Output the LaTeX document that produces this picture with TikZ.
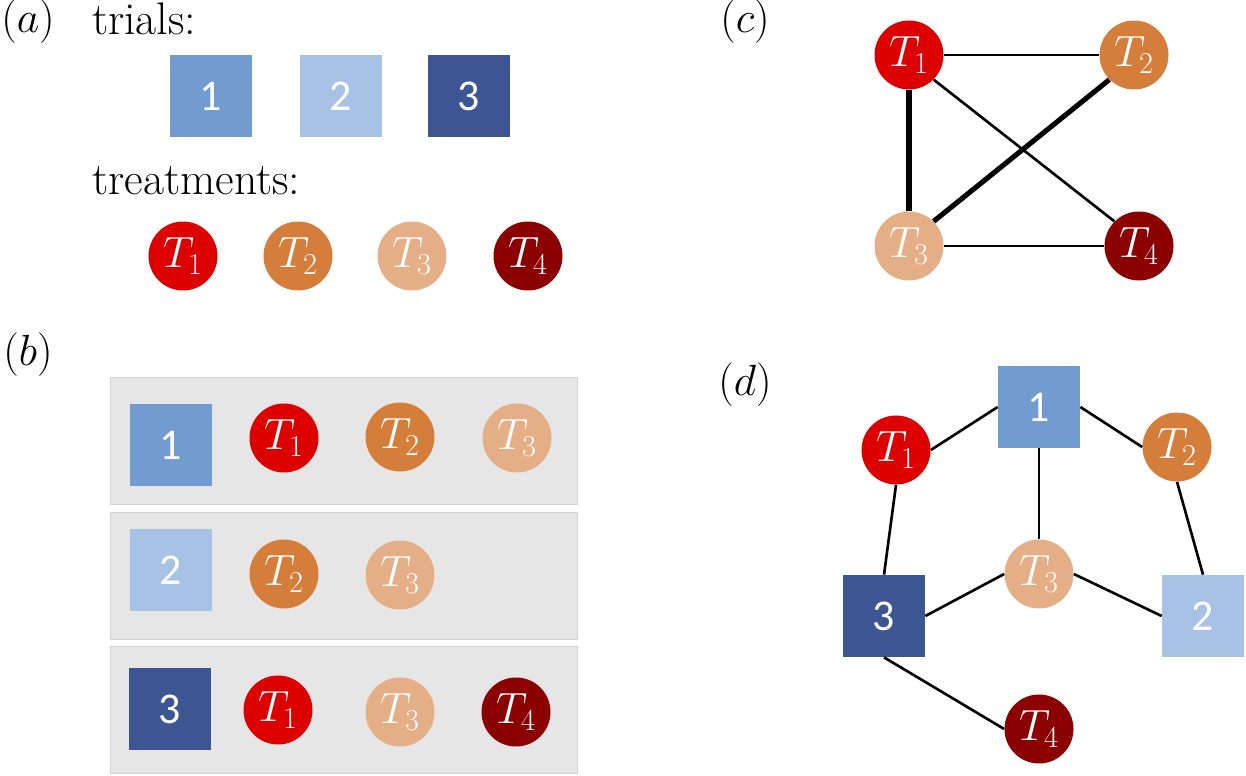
\documentclass[tikz,border=0pt]{standalone}
\usepackage{amsmath}
\usepackage{fontspec}
\newfontfamily\numfont{Carlito}
\DeclareMathSizes{24}{24}{18.5}{14}
\definecolor{trialone}{HTML}{729BD0}
\definecolor{trialtwo}{HTML}{A7C2E5}
\definecolor{trialthree}{HTML}{3E5593}
\definecolor{treatone}{HTML}{DD0000}
\definecolor{treattwo}{HTML}{D57D3B}
\definecolor{treatthree}{HTML}{E4AF86}
\definecolor{treatfour}{HTML}{8B0000}
\definecolor{rowgray}{HTML}{E6E6E6}
\definecolor{rowedge}{HTML}{D2D2D2}
\tikzset{
    every node/.style={align=center,},
    trial/.style={rectangle,minimum size=1.64cm,inner sep=0pt,text=white,font=\numfont\fontsize{25}{30}\selectfont,},
    treat/.style={circle,minimum size=1.38cm,inner sep=0pt,text=white,font=\fontsize{24}{28}\selectfont,},
    row/.style={rectangle,fill=rowgray,draw=rowedge,minimum width=9.34cm,minimum height=2.54cm,},
    panel/.style={font=\fontsize{26}{30}\selectfont,},
    link/.style={line width=1.5pt,},
    strong/.style={line width=2.9pt,},
}

\begin{document}
\begin{tikzpicture}[x=0.02cm,y=-0.02cm]
        \useasboundingbox (0, 0) rectangle (1246, 776);

        % (a)
        \node[panel] (label_a) at (28, 22) {$(a)$};
        \node[panel,anchor=base west] (trials) at (86, 35) {trials:};
        \node[trial,fill=trialone] (trial_1) at (211, 96) {1};
        \node[trial,fill=trialtwo] (trial_2) at (341, 96) {2};
        \node[trial,fill=trialthree] (trial_3) at (469, 96) {3};

        \node[panel,anchor=base west] (treatments) at (86, 195) {treatments:};
        \node[treat,fill=treatone] (treat_1) at (183, 256) {$T_1$};
        \node[treat,fill=treattwo] (treat_2) at (298, 256) {$T_2$};
        \node[treat,fill=treatthree] (treat_3) at (412, 256) {$T_3$};
        \node[treat,fill=treatfour] (treat_4) at (528, 256) {$T_4$};

        % (b)
        \node[panel] (label_b) at (28, 355) {$(b)$};
        \node[row] (row_1) at (343.5, 440.5) {};
        \node[row] (row_2) at (343.5, 575.5) {};
        \node[row] (row_3) at (343.5, 710) {};

        \node[trial,fill=trialone] (b1_trial) at (171, 445) {1};
        \node[treat,fill=treatone] (b1_t1) at (284, 438) {$T_1$};
        \node[treat,fill=treattwo] (b1_t2) at (400, 437) {$T_2$};
        \node[treat,fill=treatthree] (b1_t3) at (517, 438) {$T_3$};

        \node[trial,fill=trialtwo] (b2_trial) at (171, 570) {2};
        \node[treat,fill=treattwo] (b2_t2) at (284, 574) {$T_2$};
        \node[treat,fill=treatthree] (b2_t3) at (400, 575) {$T_3$};

        \node[trial,fill=trialthree] (b3_trial) at (170, 709) {3};
        \node[treat,fill=treatone] (b3_t1) at (278, 710) {$T_1$};
        \node[treat,fill=treatthree] (b3_t3) at (400, 712) {$T_3$};
        \node[treat,fill=treatfour] (b3_t4) at (516, 712) {$T_4$};

        % (c)
        \node[panel] (label_c) at (745, 22) {$(c)$};
        \node[treat,fill=treatone] (c_t1) at (909, 55) {$T_1$};
        \node[treat,fill=treattwo] (c_t2) at (1134, 55) {$T_2$};
        \node[treat,fill=treatthree] (c_t3) at (909, 246) {$T_3$};
        \node[treat,fill=treatfour] (c_t4) at (1139, 246) {$T_4$};

        \draw[link] (c_t1.east) to (c_t2.west);
        \draw[link] (c_t3.east) to (c_t4.west);
        \draw[link] (c_t1.south east) to (c_t4.north west);
        \draw[strong] (c_t1.south) to (c_t3.north);
        \draw[strong] (c_t2.south west) to (c_t3.north east);

        % (d)
        \node[panel] (label_d) at (745, 385) {$(d)$};
        \node[trial,fill=trialone] (d_trial_1) at (1039, 407) {1};
        \node[trial,fill=trialtwo] (d_trial_2) at (1203, 616) {2};
        \node[trial,fill=trialthree] (d_trial_3) at (884, 616) {3};
        \node[treat,fill=treatone] (d_t1) at (896, 450) {$T_1$};
        \node[treat,fill=treattwo] (d_t2) at (1177, 447) {$T_2$};
        \node[treat,fill=treatthree] (d_t3) at (1039, 574) {$T_3$};
        \node[treat,fill=treatfour] (d_t4) at (1039, 729) {$T_4$};

        \draw[link] (d_trial_1.west) to (d_t1.east);
        \draw[link] (d_trial_1.east) to (d_t2.west);
        \draw[link] (d_trial_1.south) to (d_t3.north);
        \draw[link] (d_t1.south) to (d_trial_3.north);
        \draw[link] (d_t2.south) to (d_trial_2.north);
        \draw[link] (d_t3.west) to (d_trial_3.east);
        \draw[link] (d_t3.east) to (d_trial_2.west);
        \draw[link] (d_trial_3.south) to (d_t4.west);
    \end{tikzpicture}
\end{document}
